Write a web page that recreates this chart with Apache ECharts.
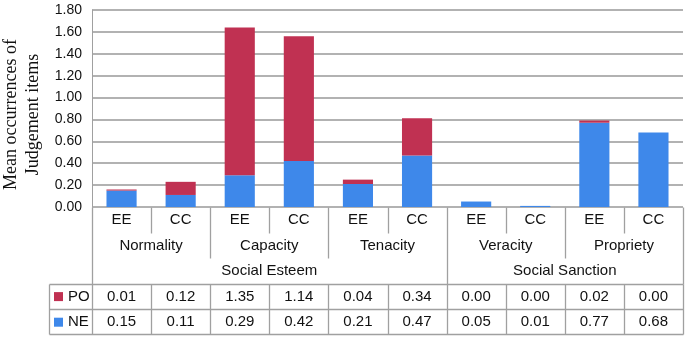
<!DOCTYPE html>
<html>
<head>
<meta charset="utf-8">
<script src="https://cdn.jsdelivr.net/npm/echarts@6/dist/echarts.min.js"></script>
<style>
  html, body { margin: 0; padding: 0; background: #fff; }
  #main { width: 685px; height: 337px; }
</style>
</head>
<body>
<div id="main"></div>
<script>
// data
var categories = ['EE', 'CC', 'EE', 'CC', 'EE', 'CC', 'EE', 'CC', 'EE', 'CC'];
var groups = ['Normality', 'Capacity', 'Tenacity', 'Veracity', 'Propriety'];
var superGroups = ['Social Esteem', 'Social Sanction'];
var superSpans = [6, 4];
var poValues = [0.01, 0.12, 1.35, 1.14, 0.04, 0.34, 0.00, 0.00, 0.02, 0.00];
var neValues = [0.15, 0.11, 0.29, 0.42, 0.21, 0.47, 0.05, 0.01, 0.77, 0.68];

var RED = '#C03152';
var BLUE = '#3E88EA';
var LINE = '#a0a0a0';
var SANS = 'Liberation Sans';
var ROW = 25.6;   // height of a table row

var chart = echarts.init(document.getElementById('main'));

function rowAxis(list, row) {
  return {
    type: 'category',
    data: categories.map(function (c, i) { return i; }),
    gridIndex: 0,
    position: 'bottom',
    axisLine: { show: false },
    axisTick: { show: false },
    splitLine: { show: false },
    axisLabel: {
      interval: 0,
      margin: ROW * row + ROW / 2,
      verticalAlign: 'middle',
      fontFamily: SANS,
      fontSize: 15,
      color: '#111',
      formatter: function (v, i) { return list[i]; }
    }
  };
}

var groupAxis = {
  type: 'category',
  data: groups,
  position: 'bottom',
  axisLine: { show: false },
  axisTick: { show: false },
  axisLabel: {
    interval: 0,
    margin: ROW * 1 + ROW / 2,
    verticalAlign: 'middle',
    fontFamily: SANS,
    fontSize: 15,
    color: '#111'
  }
};

chart.setOption({
  animation: false,
  grid: { left: 92, right: 2, top: 10, bottom: 130, containLabel: false, outerBoundsMode: 'none' },
  legend: {
    orient: 'vertical',
    left: 54,
    top: 288.6,
    padding: 0,
    itemWidth: 9,
    itemHeight: 9,
    itemGap: 9.6,
    icon: 'rect',
    selectedMode: false,
    data: ['PO', 'NE'],
    textStyle: { fontFamily: SANS, fontSize: 15, lineHeight: 16, color: '#111' }
  },
  xAxis: [
    rowAxis(categories, 0),
    groupAxis,
    rowAxis(poValues.map(function (v) { return v.toFixed(2); }), 3),
    rowAxis(neValues.map(function (v) { return v.toFixed(2); }), 4)
  ],
  yAxis: {
    type: 'value',
    min: 0,
    max: 1.8,
    interval: 0.2,
    name: 'Mean occurrences of\nJudgement items',
    nameLocation: 'middle',
    nameGap: 47,
    nameTextStyle: {
      fontFamily: 'Liberation Serif', fontSize: 18, lineHeight: 22, color: '#111',
      padding: [0, 12, 0, 0]
    },
    axisLine: { show: true, lineStyle: { color: LINE, width: 1 } },
    axisTick: { show: false },
    axisLabel: {
      margin: 10,
      fontFamily: SANS,
      fontSize: 14,
      color: '#111',
      formatter: function (v) { return v.toFixed(2); }
    },
    splitLine: { lineStyle: { color: '#999', width: 1.5 } }
  },
  series: [
    {
      name: 'NE',
      type: 'bar',
      stack: 'total',
      xAxisIndex: 0,
      barWidth: '51%',
      itemStyle: { color: BLUE },
      data: neValues
    },
    {
      name: 'PO',
      type: 'bar',
      stack: 'total',
      xAxisIndex: 0,
      barWidth: '51%',
      itemStyle: { color: RED },
      data: poValues
    }
  ]
});

// table rules and the super-group row, placed from the category scale
function drawTable() {
  var c0 = chart.convertToPixel({ xAxisIndex: 0 }, 0);
  var c1 = chart.convertToPixel({ xAxisIndex: 0 }, 1);
  var band = c1 - c0;
  var y0 = chart.convertToPixel({ yAxisIndex: 0 }, 0);
  var edges = [];
  for (var i = 0; i <= categories.length; i++) edges.push(c0 - band / 2 + band * i);
  var rowY = [];
  for (var r = 0; r <= 5; r++) rowY.push(y0 + ROW * r);
  var legendLeft = 49;
  var snap = function (v) { return Math.round(v) + 0.5; };
  var els = [];
  function line(x1, y1, x2, y2) {
    els.push({
      type: 'line',
      shape: { x1: snap(x1), y1: snap(y1), x2: snap(x2), y2: snap(y2) },
      style: { stroke: LINE, lineWidth: 1.3 },
      silent: true
    });
  }
  // horizontal rules
  line(legendLeft, rowY[3], edges[categories.length], rowY[3]);
  line(legendLeft, rowY[4], edges[categories.length], rowY[4]);
  line(legendLeft, rowY[5] - 1, edges[categories.length], rowY[5] - 1);
  // left legend column border
  line(legendLeft, rowY[3], legendLeft, rowY[5] - 1);
  // super group boundaries
  var superEdges = [0];
  superSpans.forEach(function (s) { superEdges.push(superEdges[superEdges.length - 1] + s); });
  for (i = 0; i <= categories.length; i++) {
    var depth = 1;
    if (i % 2 === 0) depth = 2;
    if (superEdges.indexOf(i) >= 0) depth = 3;
    line(edges[i], y0, edges[i], rowY[depth]);
    line(edges[i], rowY[3], edges[i], rowY[5] - 1);
  }
  // super group labels
  for (var k = 0; k < superGroups.length; k++) {
    var a = edges[superEdges[k]], b = edges[superEdges[k + 1]];
    els.push({
      type: 'text',
      silent: true,
      style: {
        x: (a + b) / 2,
        y: rowY[2] + ROW / 2,
        text: superGroups[k],
        align: 'center',
        verticalAlign: 'middle',
        fontFamily: SANS,
        fontSize: 15,
        fill: '#111'
      }
    });
  }
  chart.setOption({ graphic: els });
}
drawTable();
</script>
</body>
</html>
